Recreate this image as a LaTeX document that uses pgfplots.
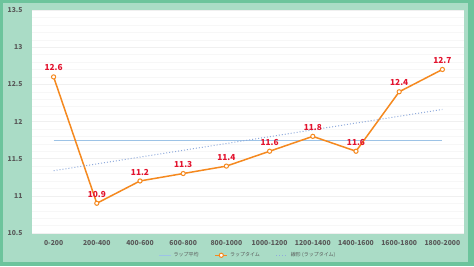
\documentclass[border=0pt]{standalone}
\usepackage{pgfplots}
\pgfplotsset{compat=1.18}
\usepackage{fontspec}
\setmainfont{Noto Sans CJK JP}
\definecolor{outerg}{HTML}{6CC49C}
\definecolor{innerg}{HTML}{AADCC6}
\definecolor{lap}{HTML}{F5891F}
\definecolor{avg}{HTML}{9DC3E6}
\definecolor{trend}{HTML}{8FAADC}
\definecolor{lbl}{HTML}{E3132E}
\definecolor{tickc}{HTML}{595959}
\begin{document}
\begin{tikzpicture}[x=1pt,y=1pt]
\fill[outerg] (0,0) rectangle (474,266);
\fill[innerg] (3,4) rectangle (468,263);
\begin{axis}[at={(32pt,33pt)}, anchor=south west, scale only axis,
  width=432pt, height=223pt,
  /pgf/number format/assume math mode=true,
  xmin=-0.5, xmax=9.5, ymin=10.5, ymax=13.5,
  axis background/.style={fill=white},
  axis line style={draw=none}, major tick length=0pt, minor tick length=0pt,
  xtick={0,...,9},
  xticklabels={0-200,200-400,400-600,600-800,800-1000,1000-1200,1200-1400,1400-1600,1600-1800,1800-2000},
  ytick={10.5,11,11.5,12,12.5,13,13.5},
  minor y tick num=4, ymajorgrids, yminorgrids,
  major grid style={black!6, line width=0.4pt},
  minor grid style={black!3, line width=0.4pt},
  tick label style={font=\fontsize{6.8}{8}\selectfont\bfseries, text=tickc},
  xticklabel style={yshift=-4pt},
  yticklabel style={xshift=-6pt},
  legend columns=3,
  legend style={at={(0.5,-0.1)}, anchor=center, draw=none, fill=none,
    font=\fontsize{5}{6}\selectfont, text=tickc,
    /tikz/every even column/.append style={column sep=14pt}},
  legend image code/.code={\draw[mark repeat=2,mark phase=2,#1] plot coordinates {(0pt,0pt) (6pt,0pt) (12pt,0pt)};},
]
\addplot[avg, line width=0.9pt] coordinates {(0,11.75) (9,11.75)};
\addlegendentry{ラップ平均}
\addplot[lap, line width=1.5pt, mark=*, mark size=2.1pt,
  mark options={fill=white, draw=lap, line width=1pt},
  nodes near coords,
  nodes near coords style={font=\fontsize{8.3}{9}\selectfont\bfseries, text=lbl, anchor=south, yshift=2pt,
    /pgf/number format/.cd, fixed, precision=1, assume math mode=true}]
  coordinates {(0,12.6) (1,10.9) (2,11.2) (3,11.3) (4,11.4) (5,11.6) (6,11.8) (7,11.6) (8,12.4) (9,12.7)};
\addlegendentry{ラップタイム}
\addplot[trend, line width=1pt, dotted] coordinates {(0,11.338) (9,12.162)};
\addlegendentry{線形 (ラップタイム)}
\end{axis}
\end{tikzpicture}
\end{document}
